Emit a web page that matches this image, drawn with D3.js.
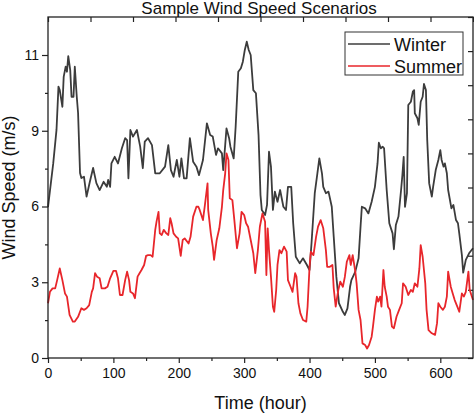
<!DOCTYPE html>
<html>
<head>
<meta charset="utf-8">
<script src="https://cdn.jsdelivr.net/npm/d3@7"></script>
<style>
  body { margin: 0; background: #fff; }
  text { font-family: "Liberation Sans", Arial, sans-serif; fill: #111; }
</style>
</head>
<body>
<div id="container"></div>
<script>
/* CONSTANTS AND DATA */

const width = 474
const height = 414
const margin = {top: 17, right: 1, bottom: 56, left: 48}

// y axis ticks sit every 2.85 m/s, labels are rounded like in the source
const yTicks = [0, 2.85, 5.7, 8.55, 11.4]
const yMinor = [1.425, 4.275, 7.125, 9.975]
const xTicks = [0, 100, 200, 300, 400, 500, 600]
const xMinor = [50, 150, 250, 350, 450, 550]

const seriesNames = ["Winter", "Summer"]
const seriesColors = ["#3c3c3c", "#e8262b"]

const winterHours = [0, 8, 13, 16, 18, 22, 24, 27, 29, 31, 34, 36, 39, 41, 44, 46, 49, 51, 55, 59,
  64, 69, 74, 79, 85, 90, 92, 95, 97, 102, 107, 113, 118, 121, 123, 126, 130, 136, 141, 145,
  148, 153, 159, 164, 171, 179, 184, 188, 192, 197, 201, 204, 208, 212, 217, 222, 227, 231, 237, 243,
  248, 252, 257, 260, 266, 268, 273, 277, 279, 284, 287, 291, 295, 298, 301, 304, 307, 310, 314, 318,
  322, 325, 327, 332, 335, 338, 341, 344, 347, 351, 355, 360, 364, 367, 372, 375, 379, 385, 390, 396,
  400, 403, 408, 412, 415, 419, 421, 425, 429, 434, 437, 441, 445, 451, 454, 458, 462, 464, 470, 475,
  478, 480, 485, 490, 495, 500, 504, 506, 509, 512, 514, 518, 522, 527, 529, 532, 536, 540, 542, 544,
  546, 549, 551, 555, 558, 560, 561, 565, 567, 570, 573, 575, 578, 580, 583, 587, 589, 593, 597, 600,
  602, 605, 607, 610, 612, 617, 620, 624, 627, 629, 633, 635, 639, 644, 650]
const winterSpeed = [5.68, 7.32, 8.58, 10.21, 10.08, 9.45, 10.58, 10.96, 10.77, 11.36, 10.83, 9.83, 9.83, 10.96, 9.83, 9.22, 6.96, 6.77, 6.82, 6.07,
  6.63, 7.15, 6.58, 6.32, 6.63, 6.44, 6.70, 6.44, 7.32, 7.57, 7.32, 7.89, 8.27, 8.20, 6.76, 8.58, 8.33, 8.58, 7.95, 7.14,
  8.14, 8.27, 8.01, 6.95, 6.95, 7.20, 8.01, 7.07, 6.82, 7.45, 6.82, 7.51, 6.76, 6.76, 8.27, 7.38, 7.20, 6.88, 7.45, 8.83,
  8.39, 8.33, 7.64, 7.89, 7.70, 7.07, 8.64, 8.27, 7.95, 7.51, 8.70, 10.77, 10.90, 11.15, 11.59, 11.90, 11.59, 11.40, 10.08, 9.96,
  8.39, 6.13, 5.57, 5.38, 5.76, 7.76, 7.20, 5.57, 6.26, 5.88, 6.32, 5.69, 5.57, 6.44, 6.44, 5.07, 3.81, 3.56, 3.75, 3.50,
  3.31, 4.31, 6.20, 6.95, 7.51, 6.95, 6.44, 6.20, 6.26, 5.69, 4.56, 3.06, 2.06, 1.74, 1.62, 1.87, 2.68, 2.93, 3.25, 3.75,
  4.94, 5.69, 5.63, 5.44, 5.88, 6.44, 7.32, 8.10, 7.89, 7.95, 7.89, 6.32, 5.07, 4.69, 4.09, 5.00, 5.32, 6.32, 6.88, 7.57,
  5.69, 6.20, 9.52, 9.64, 10.02, 10.08, 9.21, 9.02, 8.77, 9.64, 9.83, 10.31, 10.08, 8.20, 6.57, 6.07, 6.44, 7.07, 7.45, 7.82,
  7.45, 7.20, 7.32, 6.95, 6.32, 5.63, 5.76, 5.19, 5.07, 4.69, 3.87, 3.21, 3.69, 3.94, 4.13]

const summerHours = [0, 3, 7, 11, 14, 18, 22, 26, 29, 33, 38, 41, 46, 51, 55, 59, 63, 67, 69, 72,
  75, 79, 82, 87, 91, 95, 100, 104, 107, 110, 114, 118, 121, 124, 126, 130, 133, 137, 140, 143,
  147, 150, 153, 157, 160, 164, 166, 169, 171, 174, 177, 181, 184, 187, 189, 192, 196, 199, 203, 206,
  209, 215, 218, 222, 227, 230, 232, 237, 240, 244, 245, 249, 252, 254, 258, 262, 266, 268, 271, 273,
  276, 278, 282, 285, 289, 293, 296, 300, 303, 306, 310, 314, 317, 321, 324, 328, 332, 334, 336, 338,
  341, 344, 346, 349, 351, 354, 357, 361, 365, 367, 371, 374, 378, 380, 383, 386, 390, 395, 397, 400,
  402, 406, 410, 413, 417, 421, 425, 427, 431, 435, 437, 440, 444, 447, 451, 454, 457, 461, 463, 466,
  470, 472, 475, 478, 481, 485, 488, 491, 495, 497, 500, 503, 505, 508, 510, 513, 515, 518, 520, 523,
  526, 529, 533, 537, 541, 543, 547, 551, 555, 558, 561, 565, 568, 570, 573, 577, 579, 582, 587, 592,
  595, 597, 600, 604, 607, 610, 612, 616, 619, 622, 626, 629, 633, 636, 639, 643, 645, 650]
const summerSpeed = [2.06, 2.49, 2.62, 2.62, 2.93, 3.37, 2.93, 2.43, 2.31, 1.62, 1.37, 1.37, 1.55, 1.87, 1.81, 1.87, 1.99, 2.49, 2.62, 3.19,
  3.06, 3.00, 2.62, 2.62, 2.68, 3.00, 3.28, 3.28, 3.00, 2.37, 2.37, 2.93, 3.25, 2.93, 2.49, 2.43, 2.25, 3.06, 3.19, 3.31,
  3.50, 3.84, 3.87, 3.87, 3.81, 4.82, 5.13, 5.50, 4.69, 4.63, 4.82, 4.69, 4.63, 5.26, 5.07, 4.69, 4.56, 4.50, 3.84, 4.44,
  4.50, 4.31, 4.56, 5.32, 5.69, 5.69, 5.57, 5.19, 5.76, 6.57, 5.57, 4.69, 4.19, 3.69, 4.44, 4.88, 5.69, 6.32, 6.95, 7.70,
  7.45, 6.01, 5.94, 5.19, 4.13, 4.69, 5.50, 5.38, 5.07, 4.94, 4.44, 3.94, 3.19, 4.06, 4.94, 5.44, 5.13, 3.12, 4.88, 4.06,
  3.06, 1.93, 1.74, 2.56, 3.50, 4.06, 3.94, 4.19, 4.00, 2.93, 2.68, 2.49, 3.19, 3.06, 2.06, 1.68, 1.43, 1.37, 1.93, 3.43,
  4.00, 3.87, 4.56, 4.94, 5.19, 4.88, 4.06, 3.43, 3.43, 3.50, 2.62, 1.93, 2.56, 2.87, 2.68, 3.05, 3.62, 3.87, 3.50, 3.87,
  3.25, 2.81, 1.81, 1.43, 0.55, 0.49, 0.36, 0.49, 0.80, 1.18, 1.81, 2.31, 2.12, 2.31, 1.93, 3.31, 2.68, 2.31, 1.93, 1.81,
  1.18, 1.12, 1.55, 1.81, 2.06, 2.81, 2.68, 2.37, 2.56, 2.49, 2.81, 2.68, 3.37, 4.25, 3.81, 2.81, 1.81, 1.05, 0.93, 0.87,
  1.31, 2.06, 1.93, 1.81, 1.93, 2.31, 3.25, 2.68, 2.43, 2.18, 1.93, 1.74, 2.43, 2.31, 2.49, 3.25, 2.56, 2.18]

/* SVG */

const svg = d3.select("#container")
  .append("svg")
  .attr("width", width)
  .attr("height", height)
  .style("background-color", "white")

/* SCALES */

const xScale = d3.scaleLinear()
  .domain([0, 650])
  .range([margin.left, width - margin.right])

const yScale = d3.scaleLinear()
  .domain([0, 12.83])
  .range([height - margin.bottom, margin.top])

// frame ticks on top and right are evenly split into 10 parts
const topScale = d3.scaleLinear().domain([0, 10]).range(xScale.range())
const rightScale = d3.scaleLinear().domain([0, 10]).range(yScale.range())

const x0 = xScale.range()[0], x1 = xScale.range()[1]
const y0 = yScale.range()[0], y1 = yScale.range()[1]

/* AXES */

const axisColor = "#222"

function styleAxis(g) {
  g.select(".domain").remove()
  g.selectAll("line").attr("stroke", axisColor).attr("stroke-width", 1.2)
  g.selectAll("text").style("font-size", "14px").attr("fill", "#111")
}

// bottom
svg.append("g")
  .attr("transform", `translate(0, ${y0})`)
  .call(d3.axisBottom(xScale).tickValues(xTicks).tickSize(5).tickPadding(5))
  .call(styleAxis)
svg.append("g")
  .attr("transform", `translate(0, ${y0})`)
  .call(d3.axisBottom(xScale).tickValues(xMinor).tickSize(3).tickFormat(""))
  .call(styleAxis)

// left
svg.append("g")
  .attr("transform", `translate(${x0}, 0)`)
  .call(d3.axisLeft(yScale).tickValues(yTicks).tickSize(6).tickPadding(3).tickFormat(d3.format(".0f")))
  .call(styleAxis)
svg.append("g")
  .attr("transform", `translate(${x0}, 0)`)
  .call(d3.axisLeft(yScale).tickValues(yMinor).tickSize(3).tickFormat(""))
  .call(styleAxis)

// top and right, ticks pointing inward
svg.append("g")
  .attr("transform", `translate(0, ${y1})`)
  .call(d3.axisTop(topScale).ticks(10).tickSize(-5).tickFormat(""))
  .call(styleAxis)
svg.append("g")
  .attr("transform", `translate(${x1}, 0)`)
  .call(d3.axisRight(rightScale).ticks(10).tickSize(-5).tickFormat(""))
  .call(styleAxis)

/* LINES */

const line = d3.line()
  .x(d => xScale(d[0]))
  .y(d => yScale(d[1]))

const winter = d3.zip(winterHours, winterSpeed)
const summer = d3.zip(summerHours, summerSpeed)

svg.append("path")
  .datum(winter)
  .attr("fill", "none")
  .attr("stroke", seriesColors[0])
  .attr("stroke-width", 1.8)
  .attr("stroke-linejoin", "round")
  .attr("d", line)

svg.append("path")
  .datum(summer)
  .attr("fill", "none")
  .attr("stroke", seriesColors[1])
  .attr("stroke-width", 1.8)
  .attr("stroke-linejoin", "round")
  .attr("d", line)

// frame
svg.append("rect")
  .attr("x", x0)
  .attr("y", y1)
  .attr("width", x1 - x0)
  .attr("height", y0 - y1)
  .attr("fill", "none")
  .attr("stroke", axisColor)
  .attr("stroke-width", 1.3)

/* TEXT */

svg.append("text")
  .attr("x", 259)
  .attr("y", 14)
  .attr("text-anchor", "middle")
  .style("font-size", "17px")
  .text("Sample Wind Speed Scenarios")

svg.append("text")
  .attr("x", (x0 + x1) / 2)
  .attr("y", 409)
  .attr("text-anchor", "middle")
  .style("font-size", "18px")
  .text("Time (hour)")

svg.append("text")
  .attr("transform", `translate(15, ${(y0 + y1) / 2}) rotate(-90)`)
  .attr("text-anchor", "middle")
  .style("font-size", "18px")
  .text("Wind Speed (m/s)")

/* LEGEND */

const legend = svg.append("g")

legend.append("rect")
  .attr("x", 345)
  .attr("y", 32)
  .attr("width", 118)
  .attr("height", 43)
  .attr("fill", "white")
  .attr("stroke", "#333")
  .attr("stroke-width", 1)

seriesNames.forEach((name, i) => {
  const ly = 44 + i * 22
  legend.append("line")
    .attr("x1", 348)
    .attr("x2", 390)
    .attr("y1", ly)
    .attr("y2", ly)
    .attr("stroke", seriesColors[i])
    .attr("stroke-width", 1.6)
  legend.append("text")
    .attr("x", 394)
    .attr("y", ly + 7)
    .style("font-size", "18px")
    .text(name)
})
</script>
</body>
</html>
